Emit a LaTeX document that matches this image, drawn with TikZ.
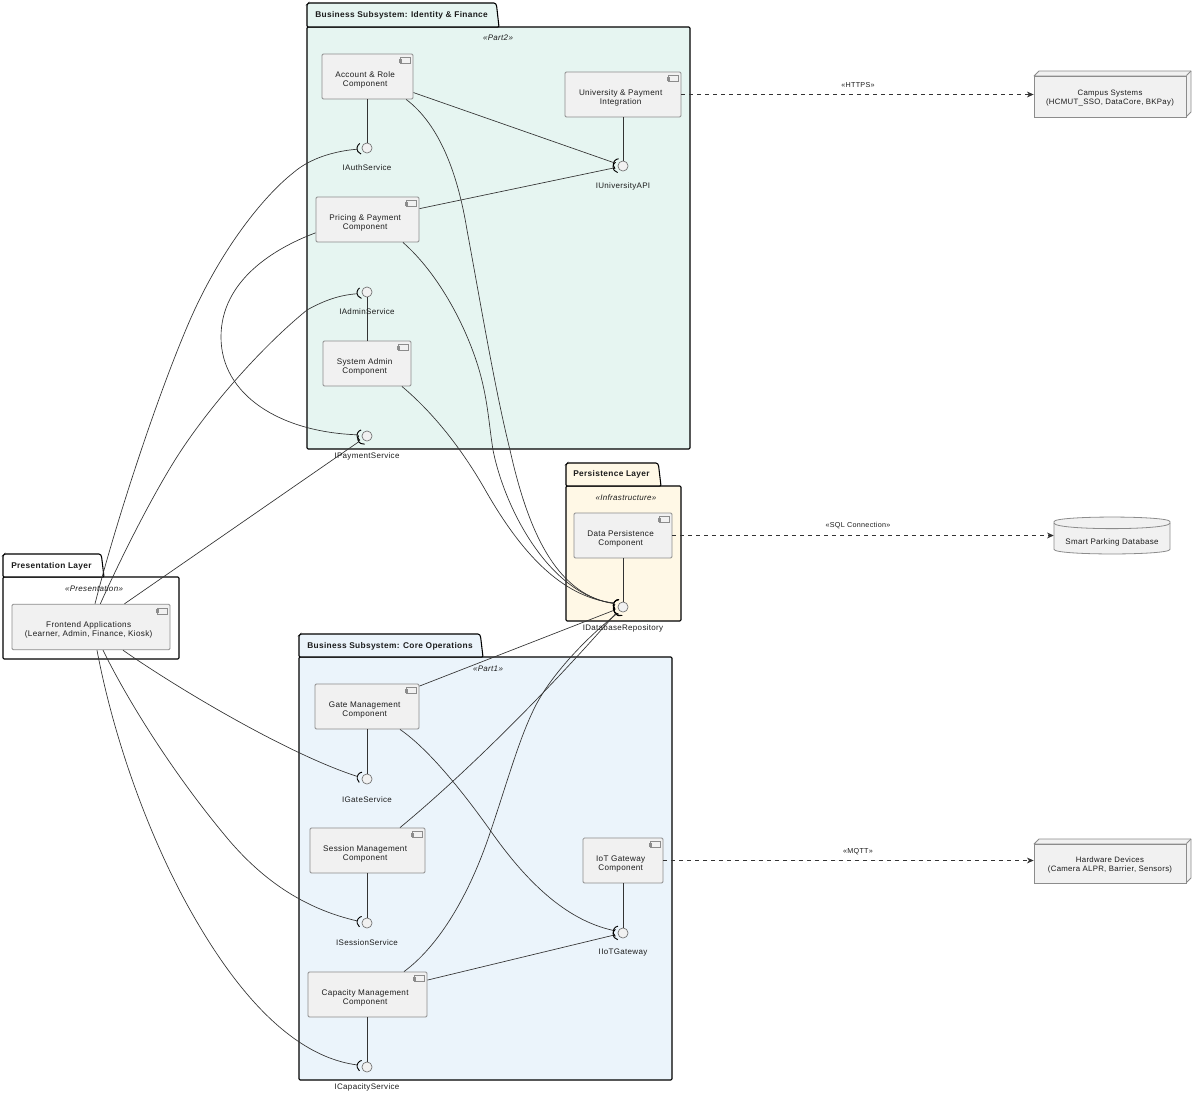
\documentclass[tikz,border=0pt]{standalone}
\usepackage{fontspec}
\setmainfont[LetterSpace=4]{Liberation Sans}
\usetikzlibrary{arrows.meta,calc}
\definecolor{boxfill}{HTML}{F1F1F1}
\definecolor{boxline}{HTML}{8C8C8C}
\definecolor{inkline}{HTML}{333333}
\definecolor{txt}{HTML}{1C1C1C}
\definecolor{pkgA}{HTML}{E6F5F1}
\definecolor{pkgB}{HTML}{FFF8E6}
\definecolor{pkgC}{HTML}{EBF4FB}
\newcommand\boxtxt[1]{\raisebox{-2.6pt}[\height][\depth]{\begin{tabular}{@{}c@{}}#1\end{tabular}}\hspace{3.5pt}}
\newcommand\exttxt[1]{\raisebox{-1.3pt}[\height][\depth]{\begin{tabular}{@{}c@{}}#1\end{tabular}}}
\newcommand\compicon[1]{\draw[boxline,fill=boxfill,line width=.45pt] ([xshift=-9.5pt,yshift=-3pt]#1.north east) rectangle ([xshift=-2.3pt,yshift=-7.6pt]#1.north east);
 \draw[boxline,fill=boxfill,line width=.4pt] ([xshift=-10.3pt,yshift=-4pt]#1.north east) rectangle ([xshift=-9.2pt,yshift=-4.9pt]#1.north east);
 \draw[boxline,fill=boxfill,line width=.4pt] ([xshift=-10.3pt,yshift=-5.7pt]#1.north east) rectangle ([xshift=-9.2pt,yshift=-6.6pt]#1.north east);}
% \sockett{interface}{tag}{angle}: a socket arc facing its connector, and the end point of that connector
\newcommand\sockett[3]{\draw[sock] ($(#1)+(#3:3.1pt)+(#3-65:4.4pt)$) arc[start angle=#3-65,end angle=#3+65,radius=4.4pt];
 \coordinate (#1#2) at ($(#1)+(#3:7.5pt)$);}
\newcommand\package[7]{% x0 x1 top bodytop bottom tabright fill
 \draw[pkg,fill=#7] (#1,#4) rectangle (#2,#5);
 \draw[pkg,fill=#7] (#1,#4) -- (#1,#3+1.5) -- (#1+1.5,#3) -- (#6,#3) -- (#6+1.5,#3+2) -- (#6+4,#4) -- cycle;}
\tikzset{
 x=.75pt,y=-.75pt,
 every node/.style={text=txt,font=\fontsize{6.1}{6.75}\selectfont},
 comp/.style={draw=boxline,fill=boxfill,line width=.6pt,rounded corners=1pt,inner sep=0pt,align=center},
 iface/.style={circle,draw=inkline!70,fill=boxfill,line width=.5pt,minimum size=7.6pt,inner sep=0pt},
 pkg/.style={draw=black,line width=.8pt,rounded corners=.8pt},
 wire/.style={draw=inkline,line width=.5pt},
 sock/.style={draw=black,line width=.7pt},
 dep/.style={draw=inkline,line width=.5pt,dash pattern=on 3pt off 3pt,-{Stealth[length=5pt,width=4.4pt,inset=1.6pt]}},
 ptitle/.style={font=\fontsize{6.25}{7}\selectfont\bfseries,anchor=west,inner sep=0pt},
 stereo/.style={font=\fontsize{6}{7}\itshape\selectfont},
 lbl/.style={font=\fontsize{6}{7}\selectfont},
 sml/.style={font=\fontsize{5.4}{7}\selectfont},
 ext/.style={font=\fontsize{5.85}{6.75}\selectfont},
}
\begin{document}
\begin{tikzpicture}
\useasboundingbox (0,0) rectangle (1200,1093);
% packages
\package{307}{690}{3}{27}{449}{495}{pkgA}
\package{566}{681}{463}{486}{621}{657}{pkgB}
\package{3}{179}{554}{577}{659}{100}{white}
\package{299}{672}{634}{657}{1080}{479}{pkgC}
\node[ptitle] (tIdent) at (315,15.5) {Business Subsystem: Identity \& Finance};
\node[ptitle] (tPers) at (573,474.7) {Persistence Layer};
\node[ptitle] (tPres) at (11,566) {Presentation Layer};
\node[ptitle] (tCore) at (307,646.5) {Business Subsystem: Core Operations};
\node[stereo] (sIdent) at (498,37.8) {«Part2»};
\node[stereo] (sPers) at (626,497.8) {«Infrastructure»};
\node[stereo] (sPres) at (94,588.8) {«Presentation»};
\node[stereo] (sCore) at (488,668.8) {«Part1»};
% components
\node[comp,minimum width=68.3pt,minimum height=33.8pt] (acct) at (367.5,76.5) {\boxtxt{Account \& Role\\Component}};
\node[comp,minimum width=87pt,minimum height=33.8pt] (univ) at (623,94.5) {\boxtxt{University \& Payment\\Integration}};
\node[comp,minimum width=77.3pt,minimum height=33.8pt] (pric) at (367.5,219.5) {\boxtxt{Pricing \& Payment\\Component}};
\node[comp,minimum width=66pt,minimum height=33.8pt] (sysa) at (367,363.5) {\boxtxt{System Admin\\Component}};
\node[comp,minimum width=73.5pt,minimum height=33.8pt] (data) at (623,535.5) {\boxtxt{Data Persistence\\Component}};
\node[comp,minimum width=118.5pt,minimum height=34.2pt] (front) at (91,627) {\boxtxt{Frontend Applications\\(Learner, Admin, Finance, Kiosk)}};
\node[comp,minimum width=78pt,minimum height=33.8pt] (gate) at (367,706.5) {\boxtxt{Gate Management\\Component}};
\node[comp,minimum width=86.3pt,minimum height=33.8pt] (sess) at (367.5,850.5) {\boxtxt{Session Management\\Component}};
\node[comp,minimum width=60pt,minimum height=33.8pt] (iotg) at (623,860.5) {\boxtxt{IoT Gateway\\Component}};
\node[comp,minimum width=89.3pt,minimum height=33.8pt] (capa) at (367.5,994.5) {\boxtxt{Capacity Management\\Component}};
\foreach \n in {acct,univ,pric,sysa,data,front,gate,sess,iotg,capa}{\compicon{\n}}
% interfaces
\node[iface] (iauth) at (367,148) {};
\node[iface] (iuni) at (623,166) {};
\node[iface] (iadm) at (367,292) {};
\node[iface] (ipay) at (367,436) {};
\node[iface] (idb) at (623,607) {};
\node[iface] (igate) at (367,779) {};
\node[iface] (isess) at (367,923) {};
\node[iface] (iiot) at (623,933) {};
\node[iface] (icap) at (367,1067) {};
\sockett{iauth}{f}{187}
\sockett{iuni}{a}{160}
\sockett{iuni}{p}{192}
\sockett{iadm}{f}{190}
\sockett{ipay}{f}{215}
\sockett{ipay}{p}{173}
\sockett{idb}{a}{160}
\sockett{idb}{p}{158}
\sockett{idb}{y}{156}
\sockett{idb}{g}{200}
\sockett{idb}{s}{222}
\sockett{idb}{c}{227}
\sockett{igate}{f}{165}
\sockett{isess}{f}{168}
\sockett{iiot}{g}{165}
\sockett{iiot}{c}{193}
\sockett{icap}{f}{168}
% interface-providing wires
\draw[wire] (iauth |- acct.south) -- (iauth);
\draw[wire] (univ) -- (iuni);
\draw[wire] (iadm |- sysa.north) -- (iadm);
\draw[wire] (data) -- (idb);
\draw[wire] (gate) -- (igate);
\draw[wire] (igate |- sess.south) -- (isess);
\draw[wire] (iotg) -- (iiot);
\draw[wire] (igate |- capa.south) -- (icap);
% straight requiring wires
\draw[wire] (acct) -- (iunia);
\draw[wire] (pric) -- (iunip);
\draw[wire] (front) -- (ipayf);
\draw[wire] (gate) -- (idbg);
\draw[wire] (capa) -- (iiotc);
% curved requiring wires
\draw[wire] ([xshift=29pt]acct.south) .. controls (440,125) and (458,175) .. (467,230) .. controls (480,300) and (495,390) .. (510,450) .. controls (530,540) and (560,595) .. (idba);
\draw[wire] ([xshift=26.6pt]pric.south) .. controls (440,275) and (468,330) .. (480,373) .. controls (488,402) and (489,425) .. (493,450) .. controls (505,510) and (550,595) .. (idbp);
\draw[wire] ([xshift=26.2pt]sysa.south) .. controls (430,410) and (460,445) .. (487,493) .. controls (520,550) and (560,597) .. (idby);
\draw[wire] ([xshift=3pt]front.north) .. controls (115,525) and (157,396) .. (190,320) .. controls (222,247) and (265,195) .. (293,173) .. controls (310,158) and (335,151) .. (iauthf);
\draw[wire] ([xshift=7pt]front.north) .. controls (120,560) and (150,500) .. (175,460) .. controls (205,412) and (258,350) .. (307,310) .. controls (325,300) and (340,295) .. (iadmf);
\draw[wire] ([yshift=-10pt]pric.west) .. controls (275,248) and (221,280) .. (221,337) .. controls (221,395) and (280,432) .. (ipayp);
\draw[wire] ([xshift=24pt]front.south) .. controls (180,690) and (290,755) .. (igatef);
\draw[wire] ([xshift=9pt]front.south) .. controls (130,705) and (175,775) .. (223,833) .. controls (265,885) and (310,910) .. (isessf);
\draw[wire] ([xshift=4.5pt]front.south) .. controls (115,745) and (150,835) .. (183,897) .. controls (220,966) and (280,1055) .. (icapf);
\draw[wire] ([xshift=24.4pt]sess.north) .. controls (460,778) and (540,700) .. (idbs);
\draw[wire] ([xshift=27.4pt]capa.north) .. controls (440,945) and (470,893) .. (490,833) .. controls (508,780) and (520,735) .. (537,703) .. controls (555,670) and (590,635) .. (idbc);
\draw[wire] ([xshift=24.75pt]gate.south) .. controls (430,750) and (465,795) .. (490,830) .. controls (525,880) and (565,920) .. (iiotg);
% external nodes
\draw[comp,rounded corners=0pt,line join=round] (1034,76) -- (1039,71) -- (1191,71) -- (1191,112) -- (1186,117) -- (1186,76) -- cycle;
\node[comp,ext,rounded corners=0pt,minimum width=114pt,minimum height=30.8pt] (camp) at (1110,96.5) {\exttxt{Campus Systems\\(HCMUT\_SSO, DataCore, BKPay)}};
\draw[boxline,line width=.6pt] (camp.north east) -- (1191,71);
\draw[comp,rounded corners=0pt,line join=round] (1034,844) -- (1039,839) -- (1191,839) -- (1191,878) -- (1186,883) -- (1186,844) -- cycle;
\node[comp,ext,rounded corners=0pt,minimum width=114pt,minimum height=29.3pt] (hard) at (1110,863.5) {\exttxt{Hardware Devices\\(Camera ALPR, Barrier, Sensors)}};
\draw[boxline,line width=.6pt] (hard.north east) -- (1191,839);
\path[comp,draw=boxline] (1054,523) .. controls (1054,515.5) and (1170,515.5) .. (1170,523) -- (1170,548) .. controls (1170,555.5) and (1054,555.5) .. (1054,548) -- cycle;
\draw[boxline,line width=.6pt] (1054,523) .. controls (1054,530.5) and (1170,530.5) .. (1170,523);
\node[inner sep=0pt,minimum width=87pt,minimum height=26pt] (db) at (1112,536) {};
\node[lbl] (dbt) at (1112,542) {Smart Parking Database};
% dependencies
\draw[dep] (univ.east) -- (camp.west |- univ.east);
\draw[dep] (data.east) -- (db.west |- data.east);
\draw[dep] (iotg.east) -- (hard.west |- iotg.east);
\node[sml] (lHttps) at (858,85) {«HTTPS»};
\node[sml] (lSql) at (858,526) {«SQL Connection»};
\node[sml] (lMqtt) at (858,852) {«MQTT»};
% interface labels
\node[lbl] (nauth) at (367,168) {IAuthService};
\node[lbl] (nuni) at (623,186) {IUniversityAPI};
\node[lbl] (nadm) at (367,312) {IAdminService};
\node[lbl] (npay) at (367,456) {IPaymentService};
\node[lbl] (ndb) at (623,628) {IDatabaseRepository};
\node[lbl] (ngate) at (367,799.5) {IGateService};
\node[lbl] (nsess) at (367,943) {ISessionService};
\node[lbl] (niot) at (623,953) {IIoTGateway};
\node[lbl] (ncap) at (367,1087) {ICapacityService};
\end{tikzpicture}
\end{document}
